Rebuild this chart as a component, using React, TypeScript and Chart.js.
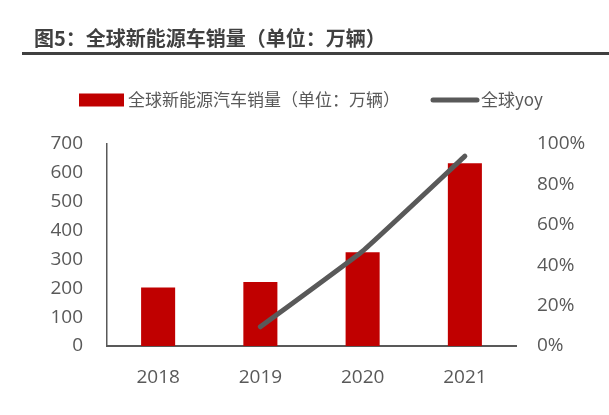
import React, { useEffect, useRef } from "react";
import { Chart, registerables } from "chart.js";

Chart.register(...registerables);

const titleText = "图5：全球新能源车销量（单位：万辆）";
const categories = ["2018", "2019", "2020", "2021"];
const salesLabel = "全球新能源汽车销量（单位：万辆）";
const salesValues = [203, 222, 325, 633];
const yoyLabel = "全球yoy";
const yoyValues: (number | null)[] = [null, 9.5, 47, 94];
const leftTicks = [0, 100, 200, 300, 400, 500, 600, 700];
const rightTicks = [0, 20, 40, 60, 80, 100];

const BAR_COLOR = "#C00000";
const LINE_COLOR = "#595959";
const TEXT_COLOR = "#595959";
const NUM_FONT = "'Open Sans', 'Noto Sans', sans-serif";
const CJK_FONT = "'Noto Sans CJK SC', 'Noto Sans', sans-serif";

const decorPlugin = {
  id: "decor",
  afterDraw(chart: any) {
    const ctx = chart.ctx as CanvasRenderingContext2D;
    ctx.save();
    // title
    ctx.fillStyle = "#404040";
    ctx.font = `bold 20px ${CJK_FONT}`;
    ctx.textBaseline = "middle";
    ctx.textAlign = "left";
    ctx.fillText(titleText, 34, 38);
    // underline
    ctx.fillStyle = "#404040";
    ctx.fillRect(22, 52, 609 - 22, 3);
    // legend
    const ds = chart.data.datasets;
    const cy = 100;
    ctx.fillStyle = BAR_COLOR;
    ctx.fillRect(79, cy - 6.5, 45, 13);
    ctx.font = `17px ${CJK_FONT}`;
    ctx.fillStyle = TEXT_COLOR;
    ctx.fillText(ds[0].label, 128, cy);
    ctx.strokeStyle = LINE_COLOR;
    ctx.lineWidth = 5;
    ctx.lineCap = "round";
    ctx.beginPath();
    ctx.moveTo(433, cy);
    ctx.lineTo(477, cy);
    ctx.stroke();
    ctx.fillText(ds[1].label, 481, cy);
    ctx.restore();
  },
};

export default function App() {
  const ref = useRef<HTMLCanvasElement | null>(null);
  useEffect(() => {
    if (!ref.current) return;
    const chart = new Chart(ref.current, {
      type: "bar",
      data: {
        labels: categories,
        datasets: [
          {
            type: "bar",
            label: salesLabel,
            data: salesValues,
            backgroundColor: BAR_COLOR,
            barPercentage: 0.333,
            categoryPercentage: 1,
            yAxisID: "y",
            order: 1,
          },
          {
            type: "line",
            label: yoyLabel,
            data: yoyValues,
            borderColor: LINE_COLOR,
            backgroundColor: LINE_COLOR,
            borderWidth: 5,
            borderCapStyle: "round",
            borderJoinStyle: "round",
            pointRadius: 0,
            tension: 0.1,
            yAxisID: "y1",
            order: 0,
          } as any,
        ],
      },
      options: {
        animation: false,
        responsive: false,
        devicePixelRatio: 1,
        layout: { padding: { top: 144, left: 0, right: 0, bottom: 0 } },
        plugins: {
          legend: { display: false },
          tooltip: { enabled: false },
          title: { display: false },
        },
        scales: {
          x: {
            grid: { display: false, drawTicks: false },
            border: { display: true, color: "#595959", width: 2 },
            ticks: {
              color: TEXT_COLOR,
              font: { family: NUM_FONT, size: 19 },
              padding: 20,
            },
            afterFit(scale: any) {
              scale.height = 415 - 346;
            },
          },
          y: {
            position: "left",
            min: 0,
            max: 700,
            afterBuildTicks(scale: any) {
              scale.ticks = leftTicks.map((v) => ({ value: v }));
            },
            grid: { display: false, drawTicks: false },
            border: { display: true, color: "#595959", width: 1.5 },
            ticks: {
              color: TEXT_COLOR,
              font: { family: NUM_FONT, size: 19 },
              padding: 24,
            },
            afterFit(scale: any) {
              scale.width = 107;
            },
          },
          y1: {
            position: "right",
            min: 0,
            max: 100,
            afterBuildTicks(scale: any) {
              scale.ticks = rightTicks.map((v) => ({ value: v }));
            },
            grid: { display: false, drawTicks: false },
            border: { display: false },
            ticks: {
              color: TEXT_COLOR,
              font: { family: NUM_FONT, size: 19 },
              padding: 21,
              callback: (v: any) => `${v}%`,
            },
            afterFit(scale: any) {
              scale.width = 609 - 516;
            },
          },
        },
      },
      plugins: [decorPlugin],
    });
    return () => chart.destroy();
  }, []);
  return (
    <div style={{ position: "fixed", left: 0, top: 0, width: 609, height: 415, background: "#fff" }}>
      <canvas ref={ref} width={609} height={415} style={{ width: 609, height: 415, display: "block" }} />
    </div>
  );
}
